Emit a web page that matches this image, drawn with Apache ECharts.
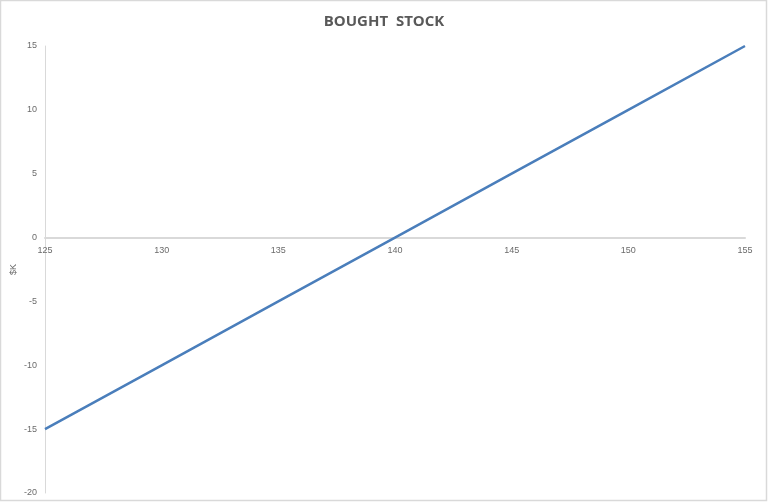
<!DOCTYPE html>
<html><head><meta charset="utf-8">
<script src="https://cdn.jsdelivr.net/npm/echarts@6/dist/echarts.min.js"></script>
<style>html,body{margin:0;padding:0;background:#fff}#c{width:768px;height:502px}</style>
</head><body><div id="c"></div>
<script>
const stockPrice = [125, 130, 135, 140, 145, 150, 155];
const profitK = [-15, -10, -5, 0, 5, 10, 15];
const titleText = 'BOUGHT  STOCK';
const yName = '$K';

const chart = echarts.init(document.getElementById('c'));
chart.setOption({
  backgroundColor: '#fff',
  animation: false,
  title: {
    text: titleText, left: 'center', top: 9,
    textStyle: {fontFamily: 'Open Sans', fontWeight: 'bold', fontSize: 15, color: '#595959'}
  },
  graphic: [{
    type: 'rect', shape: {x: 0.5, y: 0.5, width: 766, height: 500},
    style: {fill: 'none', stroke: '#d9d9d9', lineWidth: 1.5}, silent: true
  }],
  grid: {left: 45, right: 23, top: 46, bottom: 9, containLabel: false, outerBoundsMode: 'none'},
  xAxis: {
    type: 'value', min: 125, max: 155, interval: 5,
    position: 'bottom', offset: -255.4,
    axisLine: {onZero: false, lineStyle: {color: '#d9d9d9', width: 2}},
    axisTick: {show: false},
    splitLine: {show: false},
    axisLabel: {color: '#6b6b6b', fontFamily: 'Liberation Sans', fontSize: 9, margin: 8}
  },
  yAxis: {
    type: 'value', min: -20, max: 15, interval: 5,
    name: yName, nameLocation: 'middle', nameGap: 27, nameRotate: 90, nameMoveOverlap: false,
    nameTextStyle: {color: '#6b6b6b', fontFamily: 'Liberation Sans', fontSize: 9},
    axisLine: {show: true, onZero: false, lineStyle: {color: '#d9d9d9', width: 1}},
    axisTick: {show: false},
    splitLine: {show: false},
    axisLabel: {color: '#6b6b6b', fontFamily: 'Liberation Sans', fontSize: 9, margin: 8}
  },
  series: [{
    type: 'line',
    data: stockPrice.map((x, i) => [x, profitK[i]]),
    showSymbol: false,
    lineStyle: {color: '#4a7ebb', width: 2.5}
  }]
});
</script></body></html>
